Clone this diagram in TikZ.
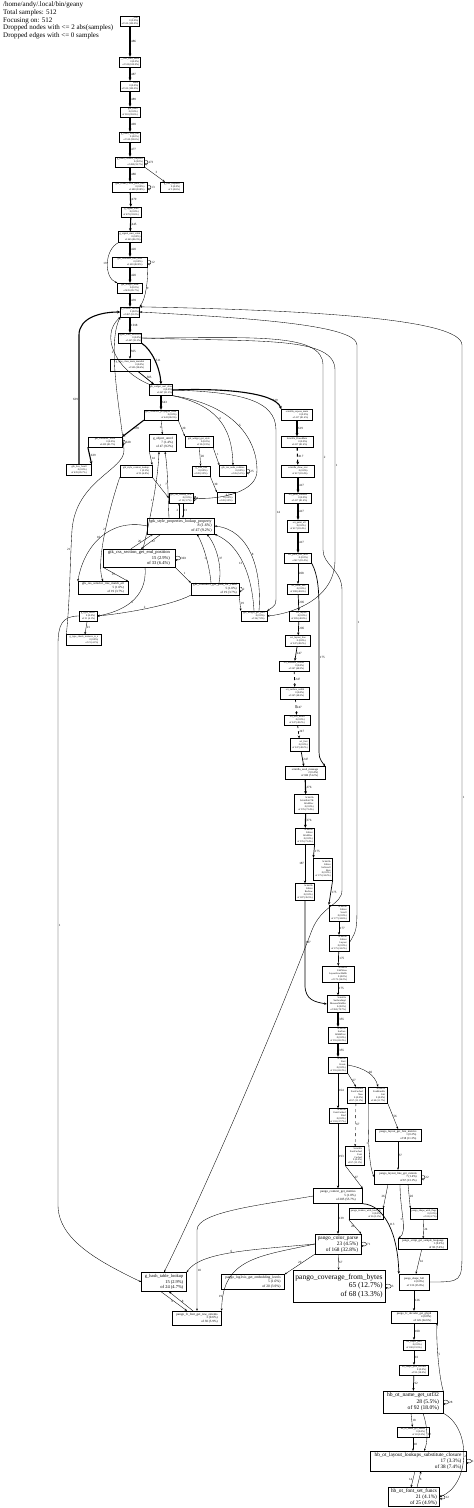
\documentclass[tikz,border=0pt]{standalone}
\usepackage{fontspec}
\setmainfont{Liberation Serif}
\usetikzlibrary{arrows.meta}
\newcommand{\fsz}[2]{\fontsize{#1}{#2}\selectfont}
\tikzset{
 nd/.style={draw, line width=0.35pt, inner sep=0.4pt, align=right, font=\fsz{2.5}{2.9}},
 e/.style={-{Stealth[length=2.4pt,width=1.9pt]}, line width=0.35pt},
 em/.style={-{Stealth[length=2.8pt,width=2.3pt]}, line width=0.7pt},
 eb/.style={-{Stealth[length=3.2pt,width=2.8pt]}, line width=1.1pt},
 el/.style={font=\fsz{3.2}{3.2}, inner sep=0.6pt},
}
\newcommand{\sloop}[3][4]{\draw[e] ([yshift=1.5pt]#2.east) .. controls +(#1pt,2pt) and +(#1pt,-2pt) .. ([yshift=-1.5pt]#2.east) node[el,right,pos=0.5]{#3};}
\begin{document}
\begin{tikzpicture}[x=1pt,y=-1pt]
\fill[white] (0,0) rectangle (474,1508);
\useasboundingbox (0,0) rectangle (474,1508);
\node[anchor=north west, align=left, font=\fsz{7}{7.75}, inner sep=0] (hdr) at (3,1.5) {/home/andy/.local/bin/geany\\Total samples: 512\\Focusing on: 512\\Dropped nodes with <= 2 abs(samples)\\Dropped edges with <= 0 samples};
% ---------- top chain
\node[nd,minimum width=19pt,minimum height=10pt] (n1) at (130,21) {\_start\\0 (0.0\%)\\of 512 (100.0\%)};
\node[nd,minimum width=21pt,minimum height=10pt] (n2) at (130,62) {\_\_libc\_start\_main\\0 (0.0\%)\\of 512 (100.0\%)};
\node[nd,minimum width=19pt,minimum height=10pt] (n3) at (130,86) {main\\0 (0.0\%)\\of 512 (100.0\%)};
\node[nd,minimum width=20pt,minimum height=10pt] (n4) at (130,112) {gtk\_main\\0 (0.0\%)\\of 510 (99.6\%)};
\node[nd,minimum width=21pt,minimum height=10pt] (n5) at (130,137) {g\_main\_loop\_run\\0 (0.0\%)\\of 510 (99.6\%)};
\node[nd,minimum width=29pt,minimum height=10pt] (n6) at (130,162) {g\_main\_context\_dispatch\\0 (0.0\%)\\of 490 (95.7\%)};
\node[nd,minimum width=35pt,minimum height=10pt] (n7) at (130,187) {gdk\_frame\_clock\_paint\_idle\\0 (0.0\%)\\of 480 (93.8\%)};
\node[nd,minimum width=23pt,minimum height=10pt] (n8) at (172,187) {g\_idle\_dispatch\\0 (0.0\%)\\of 3 (0.6\%)};
\node[nd,minimum width=20pt,minimum height=10pt] (n9) at (131,212) {g\_signal\_emit\\0 (0.0\%)\\of 479 (93.6\%)};
\node[nd,minimum width=23pt,minimum height=11pt] (n10) at (130,237) {g\_signal\_emit\_valist\\0 (0.0\%)\\of 445 (86.9\%)};
\node[nd,minimum width=35pt,minimum height=10pt] (n11) at (130,262) {gtk\_container\_idle\_sizer\\0 (0.0\%)\\of 420 (82.0\%)};
\node[nd,minimum width=25pt,minimum height=10pt] (n12) at (130,288) {gtk\_widget\_draw\\0 (0.0\%)\\of 439 (85.7\%)};
\node[nd,minimum width=19pt,minimum height=10pt] (n13) at (130,312) {g\_closure\_invoke\\0 (0.0\%)\\of 467 (91.2\%)};
\node[nd,minimum width=23pt,minimum height=10pt] (n14) at (130,338) {signal\_emit\_unlocked\\0 (0.0\%)\\of 467 (91.2\%)};
\node[nd,minimum width=40pt,minimum height=12pt] (n15) at (130,365) {g\_type\_class\_meta\_marshal\\0 (0.0\%)\\of 505 (98.6\%)};
\node[nd,minimum width=21pt,minimum height=11pt] (n16) at (161,390) {gtk\_widget\_real\_draw\\0 (0.0\%)\\of 467 (91.2\%)};
\node[nd,minimum width=34pt,minimum height=10pt] (n17) at (161,415) {gtk\_container\_propagate\_draw\\0 (0.0\%)\\of 443 (86.5\%)};
\node[nd,minimum width=31pt,minimum height=11pt] (n18) at (297,415) {scintilla\_expose\_main\\0 (0.0\%)\\of 417 (81.4\%)};
\node[nd,minimum width=34pt,minimum height=10pt] (n19) at (105,442) {gtk\_container\_forall\\0 (0.0\%)\\of 439 (85.7\%)};
\node[nd,minimum width=27pt,minimum height=17pt,font=\fsz{3.3}{3.9}] (n20) at (163,443) {g\_object\_unref\\7 (1.4\%)\\of 47 (9.2\%)};
\node[nd,minimum width=28pt,minimum height=11pt] (n21) at (199,442) {gtk\_widget\_get\_style\\0 (0.0\%)\\of 20 (3.9\%)};
\node[nd,minimum width=32pt,minimum height=11pt] (n22) at (297,442) {Scintilla\_DrawMain\\0 (0.0\%)\\of 417 (81.4\%)};
\node[nd,minimum width=25pt,minimum height=11pt] (n23) at (79,470) {gtk\_box\_forall\\0 (0.0\%)\\of 439 (85.7\%)};
\node[nd,minimum width=32pt,minimum height=12pt] (n24) at (136,471) {gtk\_style\_context\_lookup\\1 (0.2\%)\\of 35 (6.8\%)};
\node[nd,minimum width=18pt,minimum height=10pt] (n25) at (201,471) {g\_slist\_free\\0 (0.0\%)\\of 20 (3.9\%)};
\node[nd,minimum width=27pt,minimum height=11pt] (n26) at (233,471) {gtk\_css\_node\_validate\\0 (0.0\%)\\of 26 (5.1\%)};
\node[nd,minimum width=24pt,minimum height=10pt] (n27) at (181,498) {gtk\_css\_lookup\_new\\0 (0.0\%)\\of 19 (3.7\%)};
\node[nd,minimum width=18pt,minimum height=11pt] (n28) at (226,498) {g\_free\\0 (0.0\%)\\of 20 (3.9\%)};
\node[nd,minimum width=67pt,minimum height=16pt,font=\fsz{4}{4.8}] (n29) at (181,526) {gtk\_style\_properties\_lookup\_property\\8 (1.6\%)\\of 47 (9.2\%)};
\node[nd,minimum width=72pt,minimum height=18pt,font=\fsz{4.5}{5.3}] (n30) at (139,558) {gtk\_css\_section\_get\_end\_position\\15 (2.9\%)\\of 33 (6.4\%)};
\node[nd,minimum width=50pt,minimum height=13pt,font=\fsz{3.2}{3.8}] (n31) at (103,588) {gtk\_css\_selector\_tree\_match\_all\\5 (1.0\%)\\of 19 (3.7\%)};
\node[nd,minimum width=48pt,minimum height=12pt,font=\fsz{3.2}{3.8}] (n32) at (215,589) {gtk\_container\_get\_path\_for\_child\\5 (1.0\%)\\of 19 (3.7\%)};
\node[nd,minimum width=26pt,minimum height=10pt] (n33) at (254,616) {gtk\_widget\_get\_path\\0 (0.0\%)\\of 36 (7.0\%)};
\node[nd,minimum width=18pt,minimum height=10pt] (n34) at (88,616) {g\_type\_check\\0 (0.0\%)\\of 21 (4.1\%)};
\node[nd,minimum width=35pt,minimum height=11pt] (n35) at (84,640) {g\_type\_check\_instance\_is\_a\\0 (0.0\%)\\of 21 (4.1\%)};
% ---------- right chain
\node[nd,minimum width=33pt,minimum height=12pt] (n36) at (298,471) {scintilla\_draw\_text\\0 (0.0\%)\\of 417 (81.4\%)};
\node[nd,minimum width=27pt,minimum height=10pt] (n37) at (298,498) {sci\_paint\_window\\0 (0.0\%)\\of 417 (81.4\%)};
\node[nd,minimum width=21pt,minimum height=12pt] (n38) at (298,526) {sci\_paint\_all\\0 (0.0\%)\\of 417 (81.4\%)};
\node[nd,minimum width=27pt,minimum height=10pt] (n39) at (298,558) {sci\_paint\_text\_area\\0 (0.0\%)\\of 417 (81.4\%)};
\node[nd,minimum width=21pt,minimum height=10pt] (n40) at (298,589) {sci\_draw\_line\\0 (0.0\%)\\of 208 (40.6\%)};
\node[nd,minimum width=20pt,minimum height=10pt] (n41) at (299,616) {sci\_layout\\0 (0.0\%)\\of 205 (40.0\%)};
\node[nd,minimum width=25pt,minimum height=11pt] (n42) at (298,641) {sci\_layout\_line\\0 (0.0\%)\\of 247 (48.2\%)};
\node[nd,minimum width=30pt,minimum height=10pt] (n43) at (294,666) {sci\_measure\_widths\\0 (0.0\%)\\of 247 (48.2\%)};
\node[nd,minimum width=29pt,minimum height=12pt] (n44) at (295,693) {sci\_surface\_width\\0 (0.0\%)\\of 247 (48.2\%)};
\node[nd,minimum width=26pt,minimum height=10pt] (n45) at (297,720) {sci\_text\_width\\0 (0.0\%)\\of 247 (48.2\%)};
\node[nd,minimum width=19pt,minimum height=13pt] (n46) at (300,745) {sci\_font\\0 (0.0\%)\\of 247 (48.2\%)};
\node[nd,minimum width=40pt,minimum height=13pt,font=\fsz{2.8}{3.3}] (n47) at (305,773) {scintilla\_send\_message\\2 (0.4\%)\\of 380 (74.2\%)};
\node[nd,minimum width=24pt,minimum height=19pt] (n48) at (306,804) {Scintilla\\ScintillaGTK\\WndProc\\0 (0.0\%)\\of 376 (73.4\%)};
\node[nd,minimum width=19pt,minimum height=16pt] (n49) at (305,836) {Scintilla\\Editor\\WndProc\\0 (0.0\%)\\of 376 (73.4\%)};
\node[nd,minimum width=19pt,minimum height=22pt] (n50) at (323,869) {Scintilla\\Editor\\SetScroll\\Bars\\0 (0.0\%)\\of 175 (34.2\%)};
\node[nd,minimum width=19pt,minimum height=17pt] (n51) at (305,892) {Scintilla\\Editor\\Redraw\\0 (0.0\%)\\of 187 (36.5\%)};
\node[nd,minimum width=20pt,minimum height=16pt] (n52) at (339,913) {Scintilla\\Editor\\Scroll\\0 (0.0\%)\\of 177 (34.6\%)};
\node[nd,minimum width=20pt,minimum height=16pt] (n53) at (339,943) {Scintilla\\Editor\\Layout\\0 (0.0\%)\\of 175 (34.2\%)};
\node[nd,minimum width=32pt,minimum height=16pt] (n54) at (338,974) {Scintilla\\EditView\\LayoutLineWidth\\0 (0.0\%)\\of 175 (34.2\%)};
\node[nd,minimum width=22pt,minimum height=17pt] (n55) at (338,1004) {Scintilla\\SurfaceImpl\\MeasureWidths\\0 (0.0\%)\\of 362 (70.7\%)};
\node[nd,minimum width=19pt,minimum height=16pt] (n56) at (338,1035) {Scintilla\\Surface\\WidthText\\0 (0.0\%)\\of 355 (69.3\%)};
\node[nd,minimum width=19pt,minimum height=16pt] (n57) at (338,1065) {Scintilla\\Font\\Create\\0 (0.0\%)\\of 355 (69.3\%)};
\node[nd,minimum width=18pt,minimum height=15pt] (n58) at (338,1116) {Scintilla\\FontCached\\Find\\0 (0.0\%)\\of 193 (37.7\%)};
\node[nd,minimum width=18pt,minimum height=16pt] (n59) at (356,1095) {Scintilla\\FontCached\\New\\0 (0.0\%)\\of 67 (13.1\%)};
\node[nd,minimum width=19pt,minimum height=16pt] (n60) at (378,1095) {Scintilla\\FontHandle\\Init\\0 (0.0\%)\\of 60 (11.7\%)};
\node[nd,minimum width=19pt,minimum height=19pt] (n61) at (355,1156) {Scintilla\\FontCached\\Font\\Cached\\0 (0.0\%)\\of 67 (13.1\%)};
\node[nd,minimum width=46pt,minimum height=12pt,font=\fsz{2.9}{3.4}] (n62) at (398,1135) {pango\_layout\_get\_font\_metrics\\1 (0.2\%)\\of 58 (11.3\%)};
\node[nd,minimum width=47pt,minimum height=14pt,font=\fsz{3.0}{3.6}] (n63) at (398,1177) {pango\_layout\_line\_get\_extents\\7 (1.4\%)\\of 67 (13.1\%)};
\node[nd,minimum width=49pt,minimum height=15pt,font=\fsz{3.2}{3.8}] (n64) at (338,1196) {pango\_context\_get\_metrics\\5 (1.0\%)\\of 285 (55.7\%)};
\node[nd,minimum width=34pt,minimum height=11pt] (n65) at (366,1214) {pango\_itemize\_with\_base\_dir\\0 (0.0\%)\\of 26 (5.1\%)};
\node[nd,minimum width=27pt,minimum height=11pt] (n66) at (424,1214) {pango\_shape\_with\_flags\\0 (0.0\%)\\of 24 (4.7\%)};
\node[nd,minimum width=46pt,minimum height=20pt,font=\fsz{5.3}{6.1}] (n67) at (338,1244) {pango\_color\_parse\\23 (4.5\%)\\of 168 (32.8\%)};
\node[nd,minimum width=49pt,minimum height=11pt,font=\fsz{2.9}{3.4}] (n68) at (423,1244) {pango\_script\_get\_sample\_language\\1 (0.2\%)\\of 38 (7.4\%)};
\node[nd,minimum width=30pt,minimum height=16pt,font=\fsz{2.8}{3.4}] (n69) at (414,1282) {pango\_shape\_full\\4 (0.8\%)\\of 132 (25.8\%)};
\node[nd,minimum width=46pt,minimum height=12pt,font=\fsz{2.9}{3.4}] (n70) at (414,1317) {pango\_fc\_decoder\_get\_glyph\\4 (0.8\%)\\of 126 (24.6\%)};
\node[nd,minimum width=22pt,minimum height=10pt] (n71) at (414,1345) {hb\_shape\_plan\\0 (0.0\%)\\of 100 (19.5\%)};
\node[nd,minimum width=29pt,minimum height=10pt] (n72) at (414,1370) {hb\_shape\_plan\_execute\\0 (0.0\%)\\of 92 (18.0\%)};
\node[nd,minimum width=60pt,minimum height=22pt,font=\fsz{5.6}{6.5}] (n73) at (413,1402) {hb\_ot\_name\_get\_utf32\\28 (5.5\%)\\of 92 (18.0\%)};
\node[nd,minimum width=32pt,minimum height=10pt] (n74) at (413,1432) {hb\_ot\_name\_get\_names\\0 (0.0\%)\\of 18 (3.5\%)};
\node[nd,minimum width=96pt,minimum height=20pt,font=\fsz{5.2}{6.0}] (n75) at (418,1461) {hb\_ot\_layout\_lookups\_substitute\_closure\\17 (3.3\%)\\of 38 (7.4\%)};
\node[nd,minimum width=51pt,minimum height=19pt,font=\fsz{5.3}{6.1}] (n76) at (414,1497) {hb\_ot\_font\_set\_funcs\\21 (4.1\%)\\of 25 (4.9\%)};
\node[nd,minimum width=45pt,minimum height=19pt,font=\fsz{4.5}{5.2}] (n77) at (164,1282) {g\_hash\_table\_lookup\\15 (2.9\%)\\of 24 (4.7\%)};
\node[nd,minimum width=49pt,minimum height=14pt,font=\fsz{3.2}{3.8}] (n78) at (197,1318) {pango\_fc\_font\_get\_raw\_extents\\3 (0.6\%)\\of 30 (5.9\%)};
\node[nd,minimum width=63pt,minimum height=15pt,font=\fsz{3.6}{4.2}] (n79) at (253,1282) {pango\_log2vis\_get\_embedding\_levels\\5 (1.0\%)\\of 20 (3.9\%)};
\node[nd,minimum width=92pt,minimum height=32pt,font=\fsz{7.5}{8.6}] (n80) at (339,1286) {pango\_coverage\_from\_bytes\\65 (12.7\%)\\of 68 (13.3\%)};
% ---------- edges: top
\draw[eb] (n1) -- node[el,right]{486} (n2);
\draw[eb] (n2) -- node[el,right]{487} (n3);
\draw[eb] (n3) -- node[el,right]{489} (n4);
\draw[eb] (n4) -- node[el,right]{469} (n5);
\draw[eb] (n5) -- node[el,right]{477} (n6);
\sloop{n6}{473}
\draw[eb] (n6) -- node[el,right]{480} (n7);
\draw[e] (n6.south east) -- node[el,above right]{3} (n8);
\sloop{n7}{13}
\draw[eb] (n7) -- node[el,right]{479} (n9);
\draw[eb] (n9) -- node[el,right]{445} (n10);
\draw[eb] (n10) -- node[el,right]{420} (n11);
\draw[e] (n10.south west) .. controls (104,250) and (104,278) .. node[el,left]{19} (n12.north west);
\sloop{n11}{12}
\draw[eb] (n11) -- node[el,right]{420} (n12);
\draw[e] (n11.south east) .. controls (148,280) and (146,298) .. node[el,right]{9} (n13.north east);
\draw[eb] (n12) -- node[el,right]{439} (n13);
\draw[eb] (n13) -- node[el,right]{1018} (n14);
\draw[em] (n14) -- node[el,right]{505} (n15);
\draw[eb] (n14.south east) .. controls (152,350) and (160,368) .. node[el,right]{511} (n16.north);
\draw[em] (n15) -- node[el,right]{505} (n16);
\draw[e] (n16.north west) .. controls (115,370) and (100,335) .. node[el,left]{2} (n13.south west);
\draw[eb] (n23.north) -- node[el,left]{639} (79,335) .. controls (79,318) and (100,312) .. (n13.west);
\draw[eb] (n16) -- node[el,right]{643} (n17);
\draw[eb] (n16.east) .. controls (220,388) and (275,392) .. node[el,above,pos=0.85]{619} (n18.north west);
\draw[e] (n16.east) .. controls (240,392) and (276,400) .. (276,430) -- node[el,right]{14} (276,595) .. controls (276,605) .. (n33.north east);
\draw[e] (n16.south east) .. controls (235,405) and (257,440) .. node[el,right]{5} (257,470) .. controls (258,492) and (220,500) .. (n27.east);
\draw[e] (n16.south east) .. controls (215,405) and (232,425) .. node[el,right]{4} (n26.north);
\draw[e] (n14.east) .. controls (250,338) and (323,332) .. (323,365) -- node[el,right]{2} (323,550) .. controls (323,565) and (342,570) .. (342,590) -- (342,890) .. controls (342,905) and (322,905) .. (312,930) .. controls (270,1040) and (200,1200) .. (n77.north);
\draw[e] (n14.east) .. controls (260,342) and (335,336) .. (335,370) -- node[el,right]{1} (335,560) .. controls (335,600) and (290,614) .. (n33.east);
\draw[e] (n53.east) .. controls (357,930) .. (357,900) -- node[el,right]{1} (357,345) .. controls (357,325) and (250,318) .. (n13.east);
\draw[e] (n69.east) .. controls (462,1282) .. (462,1250) -- node[el,right]{1} (462,345) .. controls (462,318) and (300,310) .. (n13.north east);
% ---------- middle cluster
\draw[eb] (n17.south west) -- node[el,right]{639} (n19.north east);
\sloop{n19}{628}
\draw[eb] (n19.south west) -- node[el,right]{639} (n23.north east);
\draw[e] (n17) -- node[el,left]{1} (n20);
\draw[e] (n17.south east) -- node[el,right]{20} (n21.north west);
\draw[e] (n20.south west) -- node[el,right]{14} (n24.north east);
\draw[e] (n21) -- node[el,right]{20} (n25);
\draw[e] (n21.south east) -- node[el,above right]{1} (n26.north west);
\sloop{n26}{25}
\draw[e] (n25.south east) -- node[el,right]{30} (n28.north west);
\draw[e] (n24.south east) -- node[el,above]{1} (n27.west);
\sloop{n27}{4}
\draw[e] ([xshift=-2pt]n29.north) -- node[el,left]{2} ([xshift=-2pt]n27.south);
\draw[e] ([xshift=2pt]n27.south) -- node[el,right]{13} ([xshift=2pt]n29.north);
\draw[e] ([xshift=-12pt]n29.north) .. controls (168,500) and (168,470) .. node[el,left]{7} ([xshift=2pt]n20.south);
\draw[e] ([xshift=4pt]n30.north) .. controls (150,520) and (158,480) .. node[el,left]{1} ([xshift=-4pt]n20.south);
\draw[e] (n24.south west) .. controls (112,500) and (95,560) .. node[el,left]{2} (n31.north);
\draw[e] (n29.west) .. controls (110,518) and (84,545) .. node[el,left]{10} (n31.north west);
\draw[e] ([xshift=-8pt]n30.north) -- node[el,left]{26} ([xshift=-28pt]n29.south);
\draw[e] ([xshift=-20pt]n29.south) -- node[el,right]{12} ([xshift=2pt]n30.north);
\sloop[7]{n30}{303}
\draw[e] (n30.south west) -- node[el,left]{15} (n31.north east);
\draw[e] (n30.south east) -- node[el,above right]{1} (n32.north west);
\draw[e] ([xshift=6pt]n30.south) .. controls (148,600) and (120,612) .. node[el,right]{5} (n34.east);
\draw[e] ([xshift=-4pt]n32.north) .. controls (210,570) and (205,548) .. node[el,left]{1} ([xshift=16pt]n29.south);
\draw[e] ([xshift=4pt]n32.north) .. controls (222,570) and (218,548) .. node[el,right]{37} ([xshift=26pt]n29.south);
\sloop{n32}{2}
\draw[e] (n32.south east) -- node[el,right]{19} (n33.north west);
\draw[e] (n32.south west) .. controls (170,606) and (120,614) .. node[el,above]{2} (n34.east);
\draw[e] (n33.north) .. controls (252,575) and (240,545) .. node[el,left]{13} (n29.south east);
\draw[e] ([xshift=5pt]n33.north) .. controls (262,570) and (250,530) .. node[el,right]{8} (n29.east);
\draw[e] (n34) -- node[el,right]{21} (n35);
\draw[e] (n35.north west) .. controls (70,600) and (70,560) .. node[el,left,pos=0.8]{21} (72,530) .. controls (76,480) and (125,470) .. (124,450) .. controls (122,420) and (106,345) .. (n13.south west);
\draw[e] (n34.west) .. controls (62,616) and (58,625) .. (58,645) -- node[el,right]{1} (58,1205) .. controls (58,1240) and (100,1262) .. (n77.west);
% ---------- right chain edges
\draw[eb] (n18) -- node[el,right]{619} (n22);
\draw[eb,dashed] (n22) -- node[el,right]{417} (n36);
\draw[eb] (n36) -- node[el,right]{417} (n37);
\draw[eb] (n37) -- node[el,right]{417} (n38);
\draw[eb] (n38) -- node[el,right]{417} (n39);
\draw[em] (n39) -- node[el,right]{208} (n40);
\draw[em] (n40) -- node[el,right]{205} (n41);
\draw[em] (n41) -- node[el,right]{205} (n42);
\draw[em] (n42) -- node[el,right]{247} (n43);
\draw[em,dashed] (n43) -- node[el,right]{247} (n44);
\draw[em,dashed] (n44) -- node[el,right]{247} (n45);
\draw[em,dashed] (n45) -- node[el,right]{247} (n46);
\draw[em] (n46) -- node[el,right]{247} (n47);
\draw[em] (n39.south east) .. controls (318,575) and (319,590) .. (319,610) -- node[el,right,pos=0.35]{175} (319,745) .. controls (319,758) .. (n47.north east);
\draw[eb] (n47) -- node[el,right]{376} (n48);
\draw[eb] (n48) -- node[el,right]{376} (n49);
\draw[em] (n49) -- node[el,left]{187} (n51);
\draw[em] (n49.south east) -- node[el,right]{175} (n50.north west);
\draw[em] (n50.south east) -- node[el,right]{175} (n52.north west);
\draw[em] (n52) -- node[el,right]{177} (n53);
\draw[em] (n53) -- node[el,right]{175} (n54);
\draw[em] (n54) -- node[el,right]{175} (n55);
\draw[em] (n51.south) -- node[el,right]{187} (305,985) .. controls (305,1000) and (315,1002) .. (n55.west);
\draw[eb] (n55) -- node[el,right]{355} (n56);
\draw[eb] (n56) -- node[el,right]{355} (n57);
\draw[em] (n57) -- node[el,right]{164} (n58);
\draw[e] (n57.south east) -- node[el,right]{67} (n59.north);
\draw[e] (n57.east) .. controls (365,1068) and (375,1075) .. node[el,right]{60} (n60.north);
\draw[em] (n58) -- node[el,right]{193} (n64);
\draw[e,dashed] (n59) -- node[el,right]{67} (n61);
\draw[e] (n61.south west) -- node[el,right]{67} (n64.north east);
\draw[e] (n60.south east) -- node[el,right]{56} (n62.north);
\draw[e] (n60.south west) .. controls (368,1125) and (368,1165) .. node[el,left]{1} (n63.west);
\draw[e] (n62) -- node[el,right]{57} (n63);
\sloop{n63}{22}
\draw[e] ([xshift=-10pt]n63.south) -- node[el,left]{26} (n65.north east);
\draw[e] ([xshift=10pt]n63.south) -- node[el,right]{20} (n66.north west);
\draw[e] ([xshift=2pt]n63.south) .. controls (400,1212) and (408,1232) .. node[el,left]{1} (n68.north west);
\draw[e] (n66) -- node[el,right]{24} (n68);
\draw[e] (n65.south west) -- node[el,left]{26} (n67.north east);
\draw[em] (n64) -- node[el,right]{139} (n67);
\draw[em] (n64.south east) .. controls (385,1205) and (398,1235) .. node[el,right]{113} (n69.north west);
\draw[e] (n68) -- node[el,right]{14} (n69);
\draw[e] (n64.west) .. controls (260,1205) and (197,1212) .. (197,1230) -- node[el,right]{10} (n78.north);
\sloop[7]{n67}{71}
\draw[e] (n67.west) .. controls (250,1250) and (200,1252) .. node[el,above]{6} (n77.north east);
\draw[e] (n67.west) .. controls (260,1256) and (222,1258) .. node[el,left,pos=0.9]{19} (n78.north east);
\draw[e] (n67.south west) -- node[el,above]{20} (n79.north east);
\draw[e] (n67) -- node[el,right]{67} (n80);
\sloop[8]{n80}{3}
\draw[e] ([xshift=-3pt]n77.south) -- node[el,left]{6} ([xshift=-10pt]n78.north);
\draw[e] ([xshift=-4pt]n78.north) -- node[el,right]{8} ([xshift=5pt]n77.south);
% ---------- bottom right
\draw[em] (n69) -- node[el,right]{126} (n70);
\draw[em] (n70) -- node[el,right]{100} (n71);
\draw[em] (n71) -- node[el,right]{92} (n72);
\draw[em] (n72) -- node[el,right]{92} (n73);
\draw[e] (n73.north east) .. controls (438,1372) and (436,1335) .. node[el,right]{5} (n70.south east);
\sloop[7]{n73}{28}
\draw[e] ([xshift=-2pt]n73.south) -- node[el,right]{18} (n74);
\draw[e] (n74) -- node[el,right]{18} ([xshift=-5pt]n75.north);
\draw[e] ([xshift=10pt]n73.south) .. controls (428,1428) and (428,1442) .. node[el,right]{12} ([xshift=6pt]n75.north);
\draw[e] (n73.south east) .. controls (472,1428) and (470,1485) .. node[el,right]{2} (n76.east);
\sloop[7]{n75}{10}
\draw[e] ([xshift=-3pt]n75.south) -- node[el,left]{14} ([xshift=-3pt]n76.north);
\draw[e] ([xshift=3pt]n76.north) -- node[el,right]{8} ([xshift=3pt]n75.south);
\sloop[7]{n76}{12}
\end{tikzpicture}
\end{document}
